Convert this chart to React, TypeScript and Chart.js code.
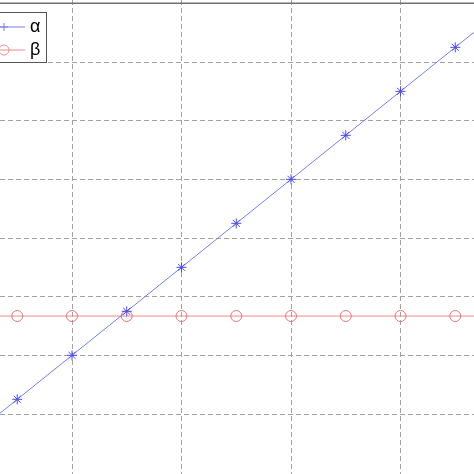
import React, { useEffect, useRef } from 'react';
import { Chart, registerables, ChartConfiguration, Plugin } from 'chart.js';

Chart.register(...registerables);

// x positions of the samples (the view is cropped, so the first and last sit off-screen)
const xValues = [0, 0.5, 1, 1.5, 2, 2.5, 3, 3.5, 4, 4.5, 5];
const alphaValues = [0.5, 1.25, 2, 2.75, 3.5, 4.25, 5, 5.75, 6.5, 7.25, 8];
const betaValues = [2.67, 2.67, 2.67, 2.67, 2.67, 2.67, 2.67, 2.67, 2.67, 2.67, 2.67];
const seriesNames = ['α', 'β'];
const xTicks = [1, 2, 3, 4];
const yTicks = [1, 2, 3, 4, 5, 6, 7];

const BLUE = '#7b7bf0';
const RED = '#f08a8a';

const frameAndLegend: Plugin = {
  id: 'frameAndLegend',
  afterDraw(chart) {
    const { ctx, scales } = chart;
    const yTop = scales.y.getPixelForValue(8);

    ctx.save();
    // top axis box line
    ctx.strokeStyle = '#707070';
    ctx.lineWidth = 1.5;
    ctx.beginPath();
    ctx.moveTo(0, yTop);
    ctx.lineTo(chart.width, yTop);
    ctx.stroke();

    // legend box
    ctx.fillStyle = '#fff';
    ctx.fillRect(-20, 12, 66, 50);
    ctx.strokeStyle = '#555';
    ctx.lineWidth = 1;
    ctx.strokeRect(-20, 12.5, 66.5, 50);

    const rows = [
      { y: 27, color: BLUE, style: 'star' },
      { y: 50, color: RED, style: 'circle' },
    ];
    rows.forEach((r, i) => {
      ctx.strokeStyle = r.color;
      ctx.lineWidth = 1;
      ctx.beginPath();
      ctx.moveTo(-20, r.y);
      ctx.lineTo(25, r.y);
      ctx.stroke();
      if (r.style === 'circle') {
        ctx.beginPath();
        ctx.arc(4, r.y, 5, 0, Math.PI * 2);
        ctx.stroke();
      } else {
        ctx.beginPath();
        ctx.moveTo(4, r.y - 4);
        ctx.lineTo(4, r.y + 4);
        ctx.moveTo(0, r.y);
        ctx.lineTo(8, r.y);
        ctx.stroke();
      }
      ctx.fillStyle = '#000';
      ctx.font = '18px "Liberation Sans"';
      ctx.textBaseline = 'middle';
      ctx.fillText(seriesNames[i], 30, r.y);
    });
    ctx.restore();
  },
};

const App: React.FC = () => {
  const canvasRef = useRef<HTMLCanvasElement>(null);
  const chartRef = useRef<Chart | null>(null);

  useEffect(() => {
    if (!canvasRef.current) return;
    if (chartRef.current) chartRef.current.destroy();

    const gridOpts = {
      color: '#a3a3a3',
      lineWidth: 1,
      drawTicks: false,
    };

    const config: ChartConfiguration<'line'> = {
      type: 'line',
      data: {
        datasets: [
          {
            label: seriesNames[0],
            data: xValues.map((x, i) => ({ x, y: alphaValues[i] })),
            borderColor: BLUE,
            backgroundColor: 'transparent',
            borderWidth: 1,
            pointStyle: 'star',
            pointRadius: 5,
            pointBorderColor: '#4a4af0',
            pointBorderWidth: 1,
          },
          {
            label: seriesNames[1],
            data: xValues.map((x, i) => ({ x, y: betaValues[i] })),
            borderColor: RED,
            backgroundColor: 'transparent',
            borderWidth: 1,
            pointStyle: 'circle',
            pointRadius: 5.5,
            pointBorderColor: '#e07878',
            pointBackgroundColor: 'transparent',
            pointBorderWidth: 1,
          },
        ],
      },
      options: {
        responsive: true,
        maintainAspectRatio: false,
        animation: false,
        layout: { padding: 0, autoPadding: false },
        plugins: {
          legend: { display: false },
          tooltip: { enabled: false },
        },
        scales: {
          x: {
            type: 'linear',
            min: 0.3425,
            max: 4.671,
            afterBuildTicks: (scale) => {
              scale.ticks = xTicks.map((v) => ({ value: v }));
            },
            ticks: { display: false },
            border: { display: false, dash: [5, 3] },
            grid: gridOpts,
          },
          y: {
            type: 'linear',
            min: -0.0227,
            max: 8.057,
            afterBuildTicks: (scale) => {
              scale.ticks = yTicks.map((v) => ({ value: v }));
            },
            ticks: { display: false },
            border: { display: false, dash: [5, 3] },
            grid: gridOpts,
          },
        },
      },
      plugins: [frameAndLegend],
    };

    chartRef.current = new Chart(canvasRef.current, config);
    return () => {
      if (chartRef.current) chartRef.current.destroy();
    };
  }, []);

  return (
    <div style={{ position: 'fixed', left: 0, top: 0, width: 474, height: 474, background: '#fff' }}>
      <canvas ref={canvasRef} />
    </div>
  );
};

export default App;
